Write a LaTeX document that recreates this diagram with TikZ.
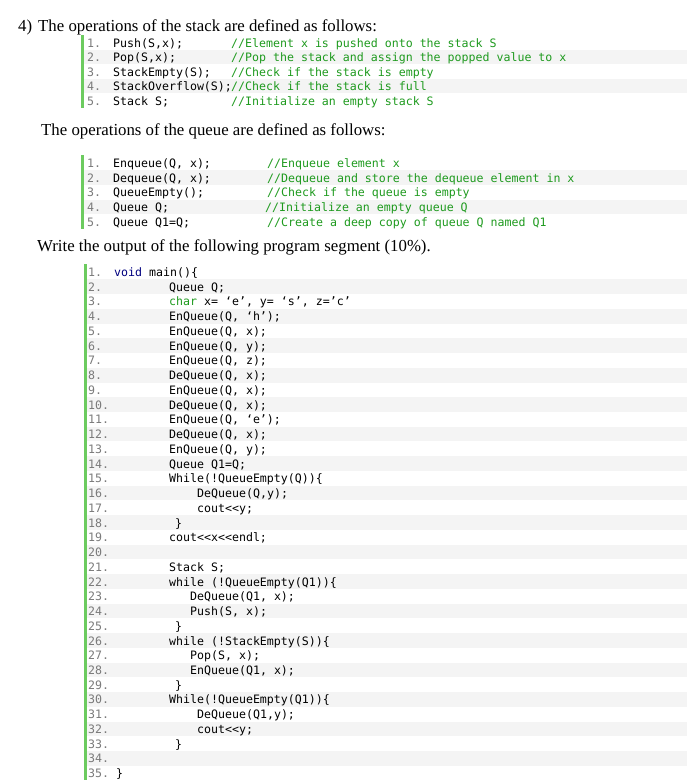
\documentclass[tikz,border=0pt]{standalone}
\usepackage{fontspec}
\setmainfont{Liberation Serif}
\setmonofont{DejaVu Sans Mono}
\definecolor{cmt}{HTML}{1E9A1E}
\definecolor{lnum}{HTML}{7A7A7A}
\definecolor{band}{HTML}{F4F4F4}
\definecolor{bar}{HTML}{6CCB5F}
\definecolor{kw}{HTML}{00007F}
\tikzset{x=1pt,y=-1pt,
  txt/.style={anchor=base west,inner sep=0pt,font=\fontsize{16.8}{18}\selectfont},
  mono/.style={anchor=base west,inner sep=0pt,font=\ttfamily\fontsize{11.6}{14}\selectfont},
  num/.style={mono,text=lnum},
  com/.style={mono,text=cmt}}
\begin{document}
\begin{tikzpicture}
\useasboundingbox (0,0) rectangle (687,783);
% bands
\foreach \k in {1,3}{\fill[band] (84,{35.5+14.5*\k}) rectangle (687,{35.5+14.5*(\k+1)});}
\foreach \k in {1,3}{\fill[band] (84,{155.5+14.75*\k}) rectangle (687,{155.5+14.75*(\k+1)});}
\foreach \k in {1,3,...,33}{\fill[band] (87,{264.6+14.74*\k}) rectangle (687,{264.6+14.74*(\k+1)});}
% bars
\fill[bar] (81,35) rectangle (84,108);
\fill[bar] (81,155) rectangle (84,229);
\fill[bar] (84,264) rectangle (87,780);
% headings
\node[txt] (h4) at (18,32) {4)};
\node[txt] (h1) at (38,32) {The operations of the stack are defined as follows:};
\node[txt] (h2) at (41,136) {The operations of the queue are defined as follows:};
\node[txt] (h3) at (37,252) {Write the output of the following program segment (10\%).};
% stack block
\foreach \t [count=\i] in {{Push(S,x);},{Pop(S,x);},{StackEmpty(S);},{StackOverflow(S);},{Stack S;}}
  {\node[num] (sn\i) at (87,{47.5+14.5*(\i-1)}) {\i.};
   \node[mono] (sc\i) at (113,{47.5+14.5*(\i-1)}) {\t};}
\foreach \t [count=\i] in {{//Element x is pushed onto the stack S},{//Pop the stack and assign the popped value to x},{//Check if the stack is empty},{//Check if the stack is full},{//Initialize an empty stack S}}
  {\node[com] (sk\i) at (231,{47.5+14.5*(\i-1)}) {\t};}
% queue block
\foreach \t [count=\i] in {{Enqueue(Q, x);},{Dequeue(Q, x);},{QueueEmpty();},{Queue Q;},{Queue Q1=Q;}}
  {\node[num] (qn\i) at (87,{167.5+14.75*(\i-1)}) {\i.};
   \node[mono] (qc\i) at (113,{167.5+14.75*(\i-1)}) {\t};}
\foreach \t/\xx [count=\i] in {{//Enqueue element x}/267,{//Dequeue and store the dequeue element in x}/267,{//Check if the queue is empty}/267,{//Initialize an empty queue Q}/265,{//Create a deep copy of queue Q named Q1}/267}
  {\node[com] (qk\i) at (\xx,{167.5+14.75*(\i-1)}) {\t};}
% code
\foreach \i in {1,...,35}{\node[num] (cn\i) at (88,{276.5+14.74*(\i-1)}) {\i.};}
\node[num] (c35b) at (88,{276.5+14.74*34}) {\phantom{35.} \textcolor{black}{\}}};
\node[mono,text=kw] (c1) at (114,276.5) {void \textcolor{black}{main()\{}};
\foreach \t/\l/\xx in {{Queue Q;}/2/169,{\textcolor{cmt}{char} x= ‘e’, y= ‘s’, z=’c’}/3/169,
 {EnQueue(Q, ‘h’);}/4/169,{EnQueue(Q, x);}/5/169,{EnQueue(Q, y);}/6/169,{EnQueue(Q, z);}/7/169,
 {DeQueue(Q, x);}/8/169,{EnQueue(Q, x);}/9/169,{DeQueue(Q, x);}/10/169,{EnQueue(Q, ‘e’);}/11/169,
 {DeQueue(Q, x);}/12/169,{EnQueue(Q, y);}/13/169,{Queue Q1=Q;}/14/169,{While(!QueueEmpty(Q))\{}/15/169,
 {DeQueue(Q,y);}/16/197,{cout<{}<y;}/17/197,{\}}/18/175,{cout<{}<x<{}<endl;}/19/169,
 {Stack S;}/21/169,{while (!QueueEmpty(Q1))\{}/22/169,{DeQueue(Q1, x);}/23/190,{Push(S, x);}/24/190,
 {\}}/25/175,{while (!StackEmpty(S))\{}/26/169,{Pop(S, x);}/27/190,{EnQueue(Q1, x);}/28/190,
 {\}}/29/175,{While(!QueueEmpty(Q1))\{}/30/169,{DeQueue(Q1,y);}/31/197,{cout<{}<y;}/32/197,{\}}/33/175}
  {\node[mono] (c\l) at (\xx,{276.5+14.74*(\l-1)}) {\t};}
\end{tikzpicture}
\end{document}
